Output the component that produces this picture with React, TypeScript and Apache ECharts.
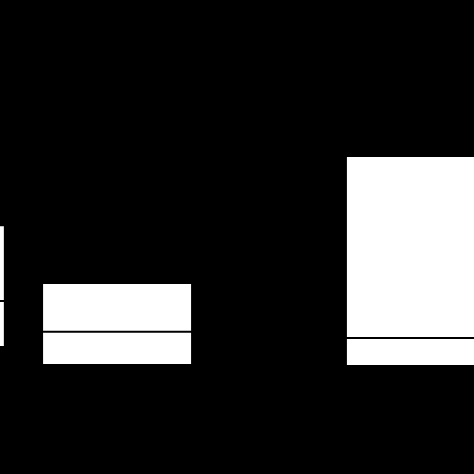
import {useEffect, useRef} from 'react';
import * as echarts from 'echarts';

// box positions along x and the five-number summaries
const positions = [-1.48, 2.47, 8.88];
const lowValues = [1.9, 1.6, 1.5];
const q1Values = [2.68, 2.3, 2.28];
const medianValues = [3.65, 3.0, 2.87];
const q3Values = [5.25, 4.03, 6.71];
const highValues = [6.6, 5.2, 8.9];

export default function App() {
    const ref = useRef<HTMLDivElement | null>(null);

    useEffect(() => {
        if (!ref.current) return;
        const chart = echarts.init(ref.current, null, {renderer: 'svg'});
        const data = positions.map((p, i) => [p, lowValues[i], q1Values[i], medianValues[i], q3Values[i], highValues[i]]);
        chart.setOption({
            animation: false,
            backgroundColor: '#000',
            grid: {left: 0, right: 0, top: 0, bottom: 0},
            xAxis: {type: 'value', min: 0, max: 10, show: false, splitLine: {show: false}},
            yAxis: {type: 'value', min: 0, max: 10, show: false, splitLine: {show: false}},
            series: [{
                type: 'boxplot',
                layout: 'horizontal',
                boxWidth: [150, 150],
                itemStyle: {color: '#fff', borderColor: '#000', borderWidth: 2},
                data
            }]
        });
        return () => chart.dispose();
    }, []);

    return <div ref={ref} style={{position: 'fixed', left: 0, top: 0, width: 474, height: 474}}/>;
}
